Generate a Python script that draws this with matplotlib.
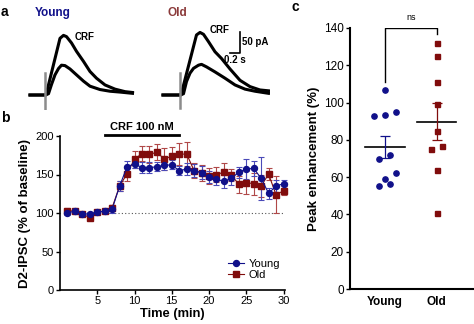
import matplotlib
matplotlib.use('Agg')
import matplotlib.pyplot as plt
import numpy as np

plt.rcParams['font.family'] = ['Liberation Sans', 'DejaVu Sans']

navy = '#10108a'
maroon = '#800c0c'
navy_err = '#4a4ab8'
maroon_err = '#b04848'

# ---- panel a: example traces (time in s after stim, current in pA)
young_crf_t = [-0.3, 0.0, 0.02, 0.3, 0.37, 0.43, 0.53, 0.63, 0.77, 0.9, 1.03, 1.2, 1.4, 1.6, 1.75]
young_crf = [0, 0, 0, 135, 142, 139, 124, 104, 80, 56, 40, 24, 14, 8, 6]
young_ctl_t = [-0.3, 0.0, 0.07, 0.13, 0.2, 0.27, 0.33, 0.4, 0.5, 0.63, 0.77, 0.9, 1.1, 1.3, 1.5, 1.75]
young_ctl = [0, 0, 3, 25, 48, 63, 71, 70, 62, 48, 33, 21, 13, 9, 7, 4]
old_crf_t = [-0.34, 0.0, 0.02, 0.33, 0.4, 0.47, 0.57, 0.7, 0.83, 1.0, 1.2, 1.4, 1.6, 1.77]
old_crf = [0, 0, 0, 143, 149, 144.5, 127, 103, 87, 62, 35, 20, 12, 10]
old_ctl_t = [-0.34, 0.0, 0.07, 0.13, 0.2, 0.27, 0.37, 0.43, 0.53, 0.7, 0.9, 1.1, 1.3, 1.5, 1.77]
old_ctl = [0, 0, 3, 32, 52, 63.5, 71, 73, 67, 55, 40, 24, 14, 9, 4]

# ---- panel b: time course (mean +/- SEM, % of baseline)
minutes = list(range(1, 31))
young_mean = [100, 102.5, 98.5, 99, 101, 102.5, 105, 135, 160, 164, 159, 159, 160, 162, 162.5,
              155, 157, 155, 152.5, 146.5, 144, 141, 145, 153, 157, 158, 145, 125.5, 135, 138]
young_sem = [3, 3, 2, 2, 2, 2, 5, 7, 7, 5, 7, 7, 6, 6, 6,
             6, 8, 8, 8, 8, 8, 8, 8, 7, 13, 10, 28, 7, 8, 5]
old_mean = [103, 102.5, 98.5, 94, 101, 102.5, 107, 135, 151, 170, 177, 176, 179, 170, 174,
            176.5, 176.5, 155, 152, 148, 150, 153, 149, 137.5, 139.5, 138, 135, 150.5, 123.5, 129]
old_sem = [3, 2, 2, 3, 2, 2, 4, 7, 10, 11, 10, 11, 10, 14, 12,
           14, 16, 10, 10, 10, 10, 12, 8, 11, 15, 14, 14, 8, 24, 6]

# ---- panel c: peak enhancement per cell
young_peak = [107, 93, 93.5, 95, 72, 70, 62, 59, 56.5, 55]
old_peak = [132, 125, 111, 99.5, 84.5, 76.5, 75, 64, 41]
young_dx = [0, -0.21, 0, 0.21, 0.10, -0.11, 0.21, 0, 0.10, -0.11]
old_dx = [0, 0, 0, 0, 0, 0.10, -0.11, 0, 0]

fig = plt.figure(figsize=(4.74, 3.24), dpi=100)


def px_box(l, t, r, b):
    return [l / 474, 1 - b / 324, (r - l) / 474, (b - t) / 324]


# traces
ax_y = fig.add_axes(px_box(25, 20, 135, 110))
ax_o = fig.add_axes(px_box(160, 20, 270, 110))
for ax, t1, i1, t2, i2, low in [(ax_y, young_crf_t, young_crf, young_ctl_t, young_ctl, -48),
                                (ax_o, old_crf_t, old_crf, old_ctl_t, old_ctl, -30)]:
    ax.plot(t1, i1, color='k', lw=2.2, solid_joinstyle='round')
    ax.plot(t2, i2, color='k', lw=2.2, solid_joinstyle='round')
    ax.plot([0, 0], [low, 52], color='#8c8c8c', lw=1.8)
    ax.set_xlim(-0.4, 1.8)
    ax.set_ylim(-35.7, 178.6)
    ax.axis('off')
ax_y.text(0.6, 138, 'CRF', fontsize=7, fontweight='bold', va='center')
ax_o.text(0.6, 155, 'CRF', fontsize=7, fontweight='bold', va='center')
ax_o.plot([1.0, 1.2, 1.2], [100.7, 100.7, 150], color='k', lw=1.2)
ax_o.text(1.24, 126, '50 pA', fontsize=7, fontweight='bold', va='center')
ax_o.text(1.09, 84, '0.2 s', fontsize=7, fontweight='bold', va='center', ha='center')

fig.text(35 / 474, 1 - 13 / 324, 'Young', color=navy, fontsize=8.5, fontweight='bold', va='center')
fig.text(167 / 474, 1 - 13 / 324, 'Old', color='#8b3a3a', fontsize=8.5, fontweight='bold', va='center')

# time course
axb = fig.add_axes(px_box(60, 136, 285, 290))
axb.plot([6.5, 30.3], [100, 100], ls=(0, (1, 2)), color='#555555', lw=0.8)
eo = axb.errorbar(minutes, old_mean, yerr=old_sem, fmt='-s', color=maroon, ecolor=maroon_err,
                  elinewidth=0.8, capsize=2, capthick=0.8, ms=4.2, lw=0.8, clip_on=False)
ey = axb.errorbar(minutes, young_mean, yerr=young_sem, fmt='-o', color=navy, ecolor=navy_err,
                  elinewidth=0.8, capsize=2, capthick=0.8, ms=4.3, lw=0.8, clip_on=False)
axb.plot([6, 16], [201, 201], color='k', lw=2, clip_on=False)
axb.text(11, 205, 'CRF 100 nM', ha='center', va='bottom', fontsize=8, fontweight='bold')
axb.set_xlim(0, 30.2)
axb.set_ylim(0, 200)
axb.set_xticks([5, 10, 15, 20, 25, 30])
axb.set_yticks([0, 50, 100, 150, 200])
axb.spines[['top', 'right']].set_visible(False)
for s in ['left', 'bottom']:
    axb.spines[s].set_linewidth(1.2)
axb.tick_params(labelsize=8, length=3, width=1, pad=1.5)
axb.set_xlabel('Time (min)', fontsize=9.3, fontweight='bold', labelpad=1)
axb.set_ylabel('D2-IPSC (% of baseline)', fontsize=9.5, fontweight='bold', labelpad=3)
axb.legend([ey.lines[0], eo.lines[0]], ['Young', 'Old'], loc='upper left',
           bbox_to_anchor=(0.72, 0.24), frameon=False, fontsize=8, handlelength=1.5,
           handletextpad=0.4, labelspacing=0.1, borderpad=0)

# peak enhancement
axc = fig.add_axes(px_box(350, 28, 473, 289))
for i, (vals, dx, col, mk, ms) in enumerate([(young_peak, young_dx, navy, 'o', 3.8),
                                             (old_peak, old_dx, maroon, 's', 3.6)]):
    v = np.array(vals)
    m = v.mean()
    sem = v.std(ddof=1) / np.sqrt(len(v))
    axc.plot(i + np.array(dx), v, mk, color=col, ms=ms, ls='none')
    axc.plot([i - 0.38, i + 0.38], [m, m], color='k', lw=1.2)
    axc.errorbar(i, m, yerr=sem, color=col, capsize=3.5, elinewidth=0.9, capthick=0.9)
axc.plot([0, 0, 1, 1], [111, 140, 140, 137], color='k', lw=1)
axc.text(0.5, 143, 'ns', ha='center', va='bottom', fontsize=6.5)
axc.set_xlim(-0.673, 1.7)
axc.set_ylim(0, 140)
axc.set_yticks(range(0, 141, 20))
axc.set_xticks([0, 1])
axc.set_xticklabels(['Young', 'Old'], fontweight='bold', fontsize=8.5)
axc.spines[['top', 'right']].set_visible(False)
for s in ['left', 'bottom']:
    axc.spines[s].set_linewidth(1.5)
axc.tick_params(axis='y', labelsize=8.5, length=3, width=1, pad=1.5)
axc.tick_params(axis='x', length=0, pad=5)
axc.set_ylabel('Peak enhancement (%)', fontsize=9.5, fontweight='bold', labelpad=3)

# panel letters
fig.text(1 / 474, 1 - 12 / 324, 'a', fontsize=10, fontweight='bold', va='center')
fig.text(1 / 474, 1 - 118 / 324, 'b', fontsize=10, fontweight='bold', va='center')
fig.text(292 / 474, 1.0, 'c', fontsize=10, fontweight='bold', va='top')

fig.savefig('out.png', dpi=100)
